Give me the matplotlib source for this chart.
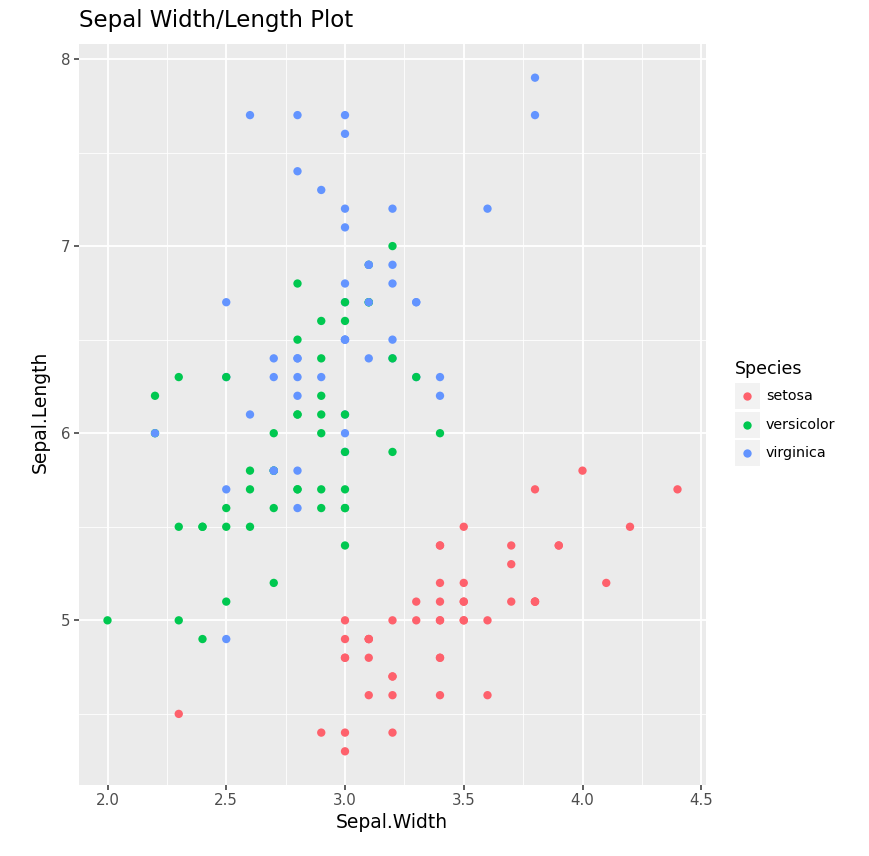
import matplotlib
matplotlib.use("Agg")
import matplotlib.pyplot as plt
from matplotlib.ticker import MultipleLocator

species = ["setosa", "versicolor", "virginica"]
colors = ["#FE616C", "#00C850", "#6394FF"]

setosa_len = [5.1,4.9,4.7,4.6,5.0,5.4,4.6,5.0,4.4,4.9,5.4,4.8,4.8,4.3,5.8,5.7,5.4,5.1,5.7,5.1,5.4,5.1,4.6,5.1,4.8,5.0,5.0,5.2,5.2,4.7,4.8,5.4,5.2,5.5,4.9,5.0,5.5,4.9,4.4,5.1,5.0,4.5,4.4,5.0,5.1,4.8,5.1,4.6,5.3,5.0]
setosa_wid = [3.5,3.0,3.2,3.1,3.6,3.9,3.4,3.4,2.9,3.1,3.7,3.4,3.0,3.0,4.0,4.4,3.9,3.5,3.8,3.8,3.4,3.7,3.6,3.3,3.4,3.0,3.4,3.5,3.4,3.2,3.1,3.4,4.1,4.2,3.1,3.2,3.5,3.1,3.0,3.4,3.5,2.3,3.2,3.5,3.8,3.0,3.8,3.2,3.7,3.3]
versicolor_len = [7.0,6.4,6.9,5.5,6.5,5.7,6.3,4.9,6.6,5.2,5.0,5.9,6.0,6.1,5.6,6.7,5.6,5.8,6.2,5.6,5.9,6.1,6.3,6.1,6.4,6.6,6.8,6.7,6.0,5.7,5.5,5.5,5.8,6.0,5.4,6.0,6.7,6.3,5.6,5.5,5.5,6.1,5.8,5.0,5.6,5.7,5.7,6.2,5.1,5.7]
versicolor_wid = [3.2,3.2,3.1,2.3,2.8,2.8,3.3,2.4,2.9,2.7,2.0,3.0,2.2,2.9,2.9,3.1,3.0,2.7,2.2,2.5,3.2,2.8,2.5,2.8,2.9,3.0,2.8,3.0,2.9,2.6,2.4,2.4,2.7,2.7,3.0,3.4,3.1,2.3,3.0,2.5,2.6,3.0,2.6,2.3,2.7,3.0,2.9,2.9,2.5,2.8]
virginica_len = [6.3,5.8,7.1,6.3,6.5,7.6,4.9,7.3,6.7,7.2,6.5,6.4,6.8,5.7,5.8,6.4,6.5,7.7,7.7,6.0,6.9,5.6,7.7,6.3,6.7,7.2,6.2,6.1,6.4,7.2,7.4,7.9,6.4,6.3,6.1,7.7,6.3,6.4,6.0,6.9,6.7,6.9,5.8,6.8,6.7,6.7,6.3,6.5,6.2,5.9]
virginica_wid = [3.3,2.7,3.0,2.9,3.0,3.0,2.5,2.9,2.5,3.6,3.2,2.7,3.0,2.5,2.8,3.2,3.0,3.8,2.6,2.2,3.2,2.8,2.8,2.7,3.3,3.2,2.8,3.0,2.8,3.0,2.8,3.8,2.8,2.8,2.6,3.0,3.4,3.1,3.0,3.1,3.1,3.1,2.7,3.2,3.3,3.0,2.5,3.0,3.4,3.0]
# virginica rows (0-based) that sit underneath versicolor points in the reference
virginica_below = [0, 15, 27, 45, 46, 49]

x_ticks = [2.0, 2.5, 3.0, 3.5, 4.0, 4.5]
y_ticks = [5, 6, 7, 8]

plt.rcParams['font.family'] = ['DejaVu Sans']
W, H = 870, 856
fig = plt.figure(figsize=(8.7, 8.56), dpi=100)
ax = fig.add_axes([79/W, 1-785/H, (706-79)/W, (785-44)/H])
ax.set_facecolor("#EBEBEB")
for s in ax.spines.values():
    s.set_visible(False)

S = 36
ax.scatter(setosa_wid, setosa_len, s=S, color=colors[0], edgecolors="none", zorder=3)
vb = [i for i in range(len(virginica_wid)) if i in virginica_below]
va = [i for i in range(len(virginica_wid)) if i not in virginica_below]
ax.scatter([virginica_wid[i] for i in vb], [virginica_len[i] for i in vb],
           s=S, color=colors[2], edgecolors="none", zorder=3)
ax.scatter(versicolor_wid, versicolor_len, s=S, color=colors[1], edgecolors="none", zorder=3)
ax.scatter([virginica_wid[i] for i in va], [virginica_len[i] for i in va],
           s=S, color=colors[2], edgecolors="none", zorder=3)

ax.set_xlim(1.88, 4.52)
ax.set_ylim(4.12, 8.08)
ax.set_xticks(x_ticks)
ax.set_xticklabels([f"{v:.1f}" for v in x_ticks])
ax.set_yticks(y_ticks)
ax.set_yticklabels([str(v) for v in y_ticks])
ax.xaxis.set_minor_locator(MultipleLocator(0.25))
ax.yaxis.set_minor_locator(MultipleLocator(0.5))
ax.grid(which="major", color="white", linewidth=1.3, zorder=1)
ax.grid(which="minor", color="white", linewidth=0.6, zorder=1)
ax.set_axisbelow(True)
ax.tick_params(which="major", length=3.5, width=1.1, color="#333333",
               labelcolor="#4D4D4D", labelsize=10.8, pad=2.5)
ax.tick_params(which="minor", length=0)

ax.set_xlabel("Sepal.Width", fontsize=13.5, color="black", va="center")
ax.xaxis.set_label_coords((392-79)/627, (785-822)/741)
ax.set_ylabel("Sepal.Length", fontsize=13.5, color="black", va="center")
ax.yaxis.set_label_coords((40-79)/627, (785-412)/741)
fig.text(79/W, 1-20/H, "Sepal Width/Length Plot", fontsize=16.5,
         ha="left", va="center", color="black")

# legend (drawn manually to match ggplot layout)
fig.text(735/W, 1-369/H, "Species", fontsize=12.5, ha="left", va="center", color="black")
key_y = [396, 425, 453]
for yk, lab, c in zip(key_y, species, colors):
    fig.add_artist(plt.Rectangle((735/W, 1-(yk+13)/H), 25/W, 26/H,
                                 transform=fig.transFigure, facecolor="#F2F2F2",
                                 edgecolor="none"))
    fig.add_artist(plt.Line2D([747.5/W], [1-yk/H], marker="o", markersize=6,
                              markerfacecolor=c, markeredgecolor="none",
                              linestyle="none", transform=fig.transFigure))
    fig.text(766/W, 1-yk/H, lab, fontsize=10.3, ha="left", va="center", color="black")

fig.savefig("out.png", dpi=100)
